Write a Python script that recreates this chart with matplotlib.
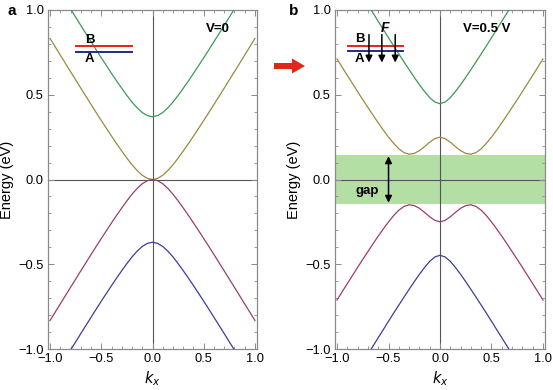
import matplotlib
matplotlib.use("Agg")
import matplotlib.pyplot as plt
from matplotlib.ticker import MultipleLocator
from matplotlib.patches import FancyArrow

plt.rcParams['font.family'] = ['Liberation Sans', 'DejaVu Sans']

# ---------------- data ----------------
k = [-1.0, -0.95, -0.9, -0.85, -0.8, -0.75, -0.7, -0.65, -0.6, -0.55, -0.5,
     -0.45, -0.4, -0.35, -0.3, -0.25, -0.2, -0.15, -0.1, -0.05, 0.0,
     0.05, 0.1, 0.15, 0.2, 0.25, 0.3, 0.35, 0.4, 0.45, 0.5,
     0.55, 0.6, 0.65, 0.7, 0.75, 0.8, 0.85, 0.9, 0.95, 1.0]

# panel a (V = 0)
a_green_k = k[4:37]
a_green = [1.006, 0.958, 0.909, 0.861, 0.813, 0.765, 0.718, 0.672, 0.626, 0.581,
           0.538, 0.496, 0.457, 0.423, 0.395, 0.377, 0.370,
           0.377, 0.395, 0.423, 0.457, 0.496, 0.538, 0.581, 0.626, 0.672,
           0.718, 0.765, 0.813, 0.861, 0.909, 0.958, 1.006]
a_olive = [0.832, 0.783, 0.734, 0.685, 0.636, 0.588, 0.539, 0.491, 0.443, 0.395,
           0.348, 0.302, 0.256, 0.211, 0.168, 0.126, 0.087, 0.053, 0.025, 0.007, 0.0,
           0.007, 0.025, 0.053, 0.087, 0.126, 0.168, 0.211, 0.256, 0.302, 0.348,
           0.395, 0.443, 0.491, 0.539, 0.588, 0.636, 0.685, 0.734, 0.783, 0.832]
a_magenta = [-v for v in a_olive]
a_blue_k = a_green_k
a_blue = [-v for v in a_green]

# panel b (V = 0.5 V)
b_green_k = k[6:35]
b_green = [1.030, 0.982, 0.933, 0.885, 0.836, 0.788, 0.741, 0.694, 0.648, 0.603,
           0.559, 0.519, 0.483, 0.457, 0.447,
           0.457, 0.483, 0.519, 0.559, 0.603, 0.648, 0.694, 0.741, 0.788, 0.836,
           0.885, 0.933, 0.982, 1.030]
b_olive = [0.711, 0.662, 0.614, 0.566, 0.518, 0.471, 0.425, 0.379, 0.334, 0.291,
           0.250, 0.213, 0.181, 0.159, 0.149, 0.154, 0.170, 0.194, 0.220, 0.241, 0.250,
           0.241, 0.220, 0.194, 0.170, 0.154, 0.149, 0.159, 0.181, 0.213, 0.250,
           0.291, 0.334, 0.379, 0.425, 0.471, 0.518, 0.566, 0.614, 0.662, 0.711]
b_magenta = [-v for v in b_olive]
b_blue_k = b_green_k
b_blue = [-v for v in b_green]

gap_low, gap_high = -0.143, 0.143

xticks = [-1.0, -0.5, 0.0, 0.5, 1.0]
yticks = [-1.0, -0.5, 0.0, 0.5, 1.0]

# ---------------- styling ----------------
C_GREEN = '#3d9959'
C_OLIVE = '#998b3d'
C_MAG = '#993d71'
C_BLUE = '#3f3d99'
FRAME = '#8a8a8a'
LW = 0.9

W, H = 553, 390
fig = plt.figure(figsize=(W / 100, H / 100), dpi=100)
ax_a = fig.add_axes([48 / W, 1 - 349 / H, 209 / W, 339 / H])
ax_b = fig.add_axes([335 / W, 1 - 349 / H, 210 / W, 339 / H])


def style(ax):
    ax.set_xlim(-1.02, 1.02)
    ax.set_ylim(-1.0, 1.0)
    ax.set_xticks(xticks)
    ax.set_yticks(yticks)
    ax.set_xticklabels(['\u22121.0', '\u22120.5', '0.0', '0.5', '1.0'])
    ax.set_yticklabels(['\u22121.0', '\u22120.5', '0.0', '0.5', '1.0'])
    ax.xaxis.set_minor_locator(MultipleLocator(0.1))
    ax.yaxis.set_minor_locator(MultipleLocator(0.1))
    ax.tick_params(which='both', direction='in', top=True, right=True,
                   color=FRAME, labelsize=9.3, pad=3)
    ax.tick_params(which='major', length=4, width=0.7)
    ax.tick_params(which='minor', length=2, width=0.6)
    for s in ax.spines.values():
        s.set_color(FRAME)
        s.set_linewidth(0.9)
    ax.axhline(0, color='#555555', lw=0.8, zorder=1)
    ax.axvline(0, color='#555555', lw=0.8, zorder=1)
    ax.set_xlabel('$k_x$', fontsize=10.5, labelpad=3)
    ax.set_ylabel('Energy (eV)', fontsize=10.5, labelpad=3)


for ax in (ax_a, ax_b):
    style(ax)

# panel a
ax_a.plot(a_green_k, a_green, color=C_GREEN, lw=LW, zorder=3)
ax_a.plot(k, a_olive, color=C_OLIVE, lw=LW, zorder=3)
ax_a.plot(k, a_magenta, color=C_MAG, lw=LW, zorder=3)
ax_a.plot(a_blue_k, a_blue, color=C_BLUE, lw=LW, zorder=3)
ax_a.plot([-0.745, -0.2], [0.785, 0.785], color='#e8201a', lw=1.4, zorder=4)
ax_a.plot([-0.745, -0.2], [0.755, 0.755], color='#1c2e8c', lw=1.4, zorder=4)
ax_a.text(-0.615, 0.79, 'B', fontsize=9.5, fontweight='bold', ha='center', va='bottom')
ax_a.text(-0.615, 0.745, 'A', fontsize=9.5, fontweight='bold', ha='center', va='top')
ax_a.text(0.64, 0.885, 'V=0', fontsize=9.5, fontweight='bold', ha='center', va='center')

# panel b
ax_b.axhspan(gap_low, gap_high, color='#b3dea4', zorder=0, lw=0)
ax_b.plot(b_green_k, b_green, color=C_GREEN, lw=LW, zorder=3)
ax_b.plot(k, b_olive, color=C_OLIVE, lw=LW, zorder=3)
ax_b.plot(k, b_magenta, color=C_MAG, lw=LW, zorder=3)
ax_b.plot(b_blue_k, b_blue, color=C_BLUE, lw=LW, zorder=3)
ax_b.plot([-0.89, -0.355], [0.788, 0.788], color='#e8201a', lw=1.4, zorder=4)
ax_b.plot([-0.89, -0.355], [0.760, 0.760], color='#1c2e8c', lw=1.4, zorder=4)
for xa in (-0.69, -0.565, -0.435):
    ax_b.annotate('', xy=(xa, 0.69), xytext=(xa, 0.855),
                  arrowprops=dict(arrowstyle='-|>', color='black', lw=1.1,
                                  mutation_scale=10, shrinkA=0, shrinkB=0), zorder=5)
ax_b.text(-0.78, 0.795, 'B', fontsize=9.5, fontweight='bold', ha='center', va='bottom')
ax_b.text(-0.78, 0.745, 'A', fontsize=9.5, fontweight='bold', ha='center', va='top')
ax_b.text(-0.535, 0.895, 'F', fontsize=10, fontweight='bold', style='italic',
          ha='center', va='center')
ax_b.text(0.45, 0.885, 'V=0.5 V', fontsize=9.5, fontweight='bold', ha='center', va='center')
ax_b.annotate('', xy=(-0.5, -0.137), xytext=(-0.5, 0.137),
              arrowprops=dict(arrowstyle='<|-|>', color='black', lw=1.1,
                              mutation_scale=10, shrinkA=0, shrinkB=0), zorder=5)
ax_b.text(-0.705, -0.065, 'gap', fontsize=9.5, fontweight='bold', ha='center', va='center')

# panel letters
fig.text(12 / W, 1 - 11 / H, 'a', fontsize=11, fontweight='bold', ha='center', va='center')
fig.text(294 / W, 1 - 11 / H, 'b', fontsize=11, fontweight='bold', ha='center', va='center')

# red arrow between panels
arr = FancyArrow(274 / W, 1 - 66 / H, 31 / W, 0, width=6 / H, head_width=15 / H,
                 head_length=13 / W, length_includes_head=True,
                 transform=fig.transFigure, color='#e2261b', lw=0)
fig.patches.append(arr)

fig.savefig('out.png', dpi=100)
